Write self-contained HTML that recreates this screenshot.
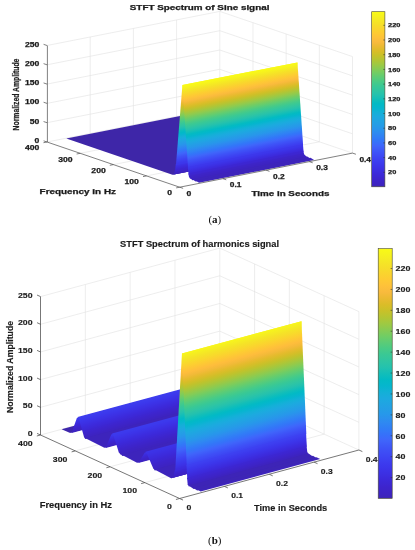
<!DOCTYPE html>
<html lang="en">
<head>
<meta charset="utf-8">
<title>STFT Spectrum figure</title>
<style>html,body{margin:0;padding:0;background:#fff}svg{display:block}</style>
</head>
<body>
<svg width="415" height="550" viewBox="0 0 415 550" font-family="&quot;Liberation Sans&quot;, Arial, sans-serif">
<defs>
<linearGradient id="a1" gradientUnits="userSpaceOnUse" x1="172.47" y1="174.66" x2="172.33" y2="173.93"><stop offset="0" stop-color="#3e26a8"/><stop offset="0.1316" stop-color="#3e26a8"/><stop offset="0.2632" stop-color="#3e26aa"/><stop offset="0.3947" stop-color="#3e25b0"/><stop offset="0.5" stop-color="#3d25b5"/><stop offset="0.5263" stop-color="#3d24b6"/><stop offset="0.6579" stop-color="#3d24bb"/><stop offset="0.7895" stop-color="#3d24bc"/><stop offset="0.9211" stop-color="#3d24be"/><stop offset="1" stop-color="#3d23bf"/></linearGradient>
<linearGradient id="a2" gradientUnits="userSpaceOnUse" x1="173.8" y1="173.64" x2="173.24" y2="170.81"><stop offset="0" stop-color="#3d23bf"/><stop offset="0.0556" stop-color="#3d23c0"/><stop offset="0.1111" stop-color="#3d23c2"/><stop offset="0.3333" stop-color="#3d23c5"/><stop offset="0.5" stop-color="#3d24c7"/><stop offset="0.5556" stop-color="#3d24c8"/><stop offset="0.7778" stop-color="#3d24cb"/><stop offset="1" stop-color="#3d25cf"/></linearGradient>
<linearGradient id="a3" gradientUnits="userSpaceOnUse" x1="174.79" y1="170.51" x2="173.57" y2="164.34"><stop offset="0" stop-color="#3d25cf"/><stop offset="0.1111" stop-color="#3c26d2"/><stop offset="0.2222" stop-color="#3c28d6"/><stop offset="0.25" stop-color="#3c28d7"/><stop offset="0.3333" stop-color="#3c29da"/><stop offset="0.4444" stop-color="#3c2bdd"/><stop offset="0.5" stop-color="#3c2cde"/><stop offset="0.5556" stop-color="#3c2de0"/><stop offset="0.6667" stop-color="#3c30e3"/><stop offset="0.75" stop-color="#3c31e5"/><stop offset="0.7778" stop-color="#3c32e6"/><stop offset="0.8889" stop-color="#3c34e9"/><stop offset="1" stop-color="#3c37eb"/></linearGradient>
<linearGradient id="a4" gradientUnits="userSpaceOnUse" x1="175.79" y1="163.9" x2="161.07" y2="89.31"><stop offset="0" stop-color="#3c37eb"/><stop offset="0.0095" stop-color="#3c39ed"/><stop offset="0.019" stop-color="#3d3cee"/><stop offset="0.0278" stop-color="#3d3ef0"/><stop offset="0.0286" stop-color="#3d3ff0"/><stop offset="0.0381" stop-color="#3d42f2"/><stop offset="0.0476" stop-color="#3d45f3"/><stop offset="0.0556" stop-color="#3d48f4"/><stop offset="0.0571" stop-color="#3e49f4"/><stop offset="0.0667" stop-color="#3e4df5"/><stop offset="0.0762" stop-color="#3e50f6"/><stop offset="0.0833" stop-color="#3e53f7"/><stop offset="0.0857" stop-color="#3e54f7"/><stop offset="0.0952" stop-color="#3e59f8"/><stop offset="0.1048" stop-color="#3f5df9"/><stop offset="0.1111" stop-color="#3f60fa"/><stop offset="0.1143" stop-color="#3f62fa"/><stop offset="0.1238" stop-color="#3f66fb"/><stop offset="0.1333" stop-color="#3b6afb"/><stop offset="0.1389" stop-color="#396dfa"/><stop offset="0.1429" stop-color="#386ffa"/><stop offset="0.1524" stop-color="#3573f9"/><stop offset="0.1619" stop-color="#3377f8"/><stop offset="0.1667" stop-color="#3279f7"/><stop offset="0.1714" stop-color="#317bf7"/><stop offset="0.181" stop-color="#3080f5"/><stop offset="0.1905" stop-color="#2f83f4"/><stop offset="0.1944" stop-color="#2f85f3"/><stop offset="0.2" stop-color="#2f87f2"/><stop offset="0.2095" stop-color="#2d8bf0"/><stop offset="0.219" stop-color="#2c8fee"/><stop offset="0.2222" stop-color="#2b91ed"/><stop offset="0.2286" stop-color="#2993ec"/><stop offset="0.2381" stop-color="#2797eb"/><stop offset="0.25" stop-color="#269ae8"/><stop offset="0.2778" stop-color="#22a1e4"/><stop offset="0.3056" stop-color="#1da8e0"/><stop offset="0.3333" stop-color="#16afd9"/><stop offset="0.3611" stop-color="#08b4d1"/><stop offset="0.3889" stop-color="#01b9c7"/><stop offset="0.4167" stop-color="#0bbdbd"/><stop offset="0.4444" stop-color="#1fc0b2"/><stop offset="0.4722" stop-color="#2cc4a6"/><stop offset="0.5" stop-color="#35c79a"/><stop offset="0.5278" stop-color="#41ca8c"/><stop offset="0.5556" stop-color="#53cc7d"/><stop offset="0.5833" stop-color="#67cd6c"/><stop offset="0.6111" stop-color="#7ecc5b"/><stop offset="0.6389" stop-color="#94ca4a"/><stop offset="0.6667" stop-color="#aac73a"/><stop offset="0.6944" stop-color="#bec32e"/><stop offset="0.7222" stop-color="#d1bf27"/><stop offset="0.75" stop-color="#e1bc2b"/><stop offset="0.7778" stop-color="#f0ba36"/><stop offset="0.8056" stop-color="#fcbc3d"/><stop offset="0.8333" stop-color="#fec437"/><stop offset="0.8611" stop-color="#fdce31"/><stop offset="0.8889" stop-color="#f9d72c"/><stop offset="0.9167" stop-color="#f5e128"/><stop offset="0.9444" stop-color="#f5eb23"/><stop offset="0.9722" stop-color="#f7f41c"/><stop offset="1" stop-color="#f9fb15"/></linearGradient>
<linearGradient id="a5" gradientUnits="userSpaceOnUse" x1="182.42" y1="85.1" x2="198.36" y2="165.86"><stop offset="-0" stop-color="#f9fb15"/><stop offset="0.0286" stop-color="#f7f41c"/><stop offset="0.0571" stop-color="#f5ea23"/><stop offset="0.0857" stop-color="#f6e028"/><stop offset="0.1143" stop-color="#f9d62d"/><stop offset="0.1429" stop-color="#fdcc32"/><stop offset="0.1714" stop-color="#fec339"/><stop offset="0.2" stop-color="#fabb3d"/><stop offset="0.2286" stop-color="#edba33"/><stop offset="0.2571" stop-color="#debd29"/><stop offset="0.2857" stop-color="#ccc028"/><stop offset="0.3143" stop-color="#b8c431"/><stop offset="0.3429" stop-color="#a3c83f"/><stop offset="0.3714" stop-color="#8dcb50"/><stop offset="0.4" stop-color="#75cc61"/><stop offset="0.4286" stop-color="#5fcd73"/><stop offset="0.4571" stop-color="#4bcb84"/><stop offset="0.4857" stop-color="#3bc993"/><stop offset="0.5143" stop-color="#31c6a0"/><stop offset="0.5429" stop-color="#26c2ac"/><stop offset="0.5714" stop-color="#15bfb7"/><stop offset="0.6" stop-color="#03bbc2"/><stop offset="0.6286" stop-color="#04b6cd"/><stop offset="0.6571" stop-color="#12b1d6"/><stop offset="0.6857" stop-color="#1babde"/><stop offset="0.7143" stop-color="#20a4e3"/><stop offset="0.7429" stop-color="#259ce7"/><stop offset="0.7613" stop-color="#2798ea"/><stop offset="0.7709" stop-color="#2994ec"/><stop offset="0.7714" stop-color="#2994ec"/><stop offset="0.7804" stop-color="#2b90ee"/><stop offset="0.79" stop-color="#2d8cef"/><stop offset="0.7995" stop-color="#2e88f1"/><stop offset="0.8" stop-color="#2e88f1"/><stop offset="0.8091" stop-color="#2f84f3"/><stop offset="0.8186" stop-color="#3081f5"/><stop offset="0.8282" stop-color="#317cf6"/><stop offset="0.8286" stop-color="#317cf6"/><stop offset="0.8377" stop-color="#3278f8"/><stop offset="0.8473" stop-color="#3474f9"/><stop offset="0.8568" stop-color="#3770fa"/><stop offset="0.8571" stop-color="#3770fa"/><stop offset="0.8663" stop-color="#3a6cfa"/><stop offset="0.8759" stop-color="#3e67fb"/><stop offset="0.8854" stop-color="#3f63fa"/><stop offset="0.8857" stop-color="#3f63fa"/><stop offset="0.895" stop-color="#3f5ef9"/><stop offset="0.9045" stop-color="#3e5af9"/><stop offset="0.9141" stop-color="#3e55f8"/><stop offset="0.9143" stop-color="#3e55f8"/><stop offset="0.9236" stop-color="#3e51f7"/><stop offset="0.9332" stop-color="#3e4ef6"/><stop offset="0.9427" stop-color="#3e4af4"/><stop offset="0.9429" stop-color="#3e4af4"/><stop offset="0.9523" stop-color="#3d46f3"/><stop offset="0.9618" stop-color="#3d43f2"/><stop offset="0.9714" stop-color="#3d3ff1"/><stop offset="0.9714" stop-color="#3d3ff1"/><stop offset="0.9809" stop-color="#3d3def"/><stop offset="0.9905" stop-color="#3c3aed"/><stop offset="1" stop-color="#3c37eb"/></linearGradient>
<linearGradient id="a6" gradientUnits="userSpaceOnUse" x1="188.06" y1="167.89" x2="189.32" y2="174.28"><stop offset="-0" stop-color="#3c37eb"/><stop offset="0.0303" stop-color="#3c37eb"/><stop offset="0.1515" stop-color="#3c34e9"/><stop offset="0.2727" stop-color="#3c32e6"/><stop offset="0.3333" stop-color="#3c31e4"/><stop offset="0.3939" stop-color="#3c30e3"/><stop offset="0.5152" stop-color="#3c2de0"/><stop offset="0.6364" stop-color="#3c2bdd"/><stop offset="0.6667" stop-color="#3c2bdc"/><stop offset="0.7576" stop-color="#3c29da"/><stop offset="0.8788" stop-color="#3c28d6"/><stop offset="1" stop-color="#3c26d2"/></linearGradient>
<linearGradient id="a7" gradientUnits="userSpaceOnUse" x1="188.56" y1="174.43" x2="189.12" y2="177.28"><stop offset="-0" stop-color="#3c26d2"/><stop offset="0.1429" stop-color="#3d26d1"/><stop offset="0.4286" stop-color="#3d25cd"/><stop offset="0.5" stop-color="#3d24cc"/><stop offset="0.7143" stop-color="#3d24ca"/><stop offset="1" stop-color="#3d24c6"/></linearGradient>
<linearGradient id="a8" gradientUnits="userSpaceOnUse" x1="189.06" y1="177.3" x2="189.38" y2="178.93"><stop offset="-0" stop-color="#3d24c6"/><stop offset="0.3333" stop-color="#3d23c5"/><stop offset="0.5" stop-color="#3d23c4"/><stop offset="1" stop-color="#3d23c2"/></linearGradient>
<linearGradient id="a9" gradientUnits="userSpaceOnUse" x1="190.05" y1="178.79" x2="190.4" y2="180.55"><stop offset="-0" stop-color="#3d23c2"/><stop offset="0.3333" stop-color="#3d23c0"/><stop offset="0.5" stop-color="#3d23c0"/><stop offset="0.6667" stop-color="#3d23bf"/><stop offset="1" stop-color="#3d24bd"/></linearGradient>
<linearGradient id="cba" x1="0" y1="0" x2="0" y2="1"><stop offset="-0" stop-color="#f9fb15"/><stop offset="0.025" stop-color="#f6f21e"/><stop offset="0.05" stop-color="#f5e825"/><stop offset="0.075" stop-color="#f6de29"/><stop offset="0.1" stop-color="#fad42e"/><stop offset="0.125" stop-color="#feca33"/><stop offset="0.15" stop-color="#fec13a"/><stop offset="0.175" stop-color="#f8ba3d"/><stop offset="0.2" stop-color="#eaba31"/><stop offset="0.225" stop-color="#dabd28"/><stop offset="0.25" stop-color="#c8c129"/><stop offset="0.275" stop-color="#b4c533"/><stop offset="0.3" stop-color="#9fc942"/><stop offset="0.325" stop-color="#88cb53"/><stop offset="0.35" stop-color="#71cd64"/><stop offset="0.375" stop-color="#5ccc76"/><stop offset="0.4" stop-color="#48cb86"/><stop offset="0.425" stop-color="#39c895"/><stop offset="0.45" stop-color="#2fc5a2"/><stop offset="0.475" stop-color="#24c2ae"/><stop offset="0.5" stop-color="#12beb9"/><stop offset="0.525" stop-color="#02bac4"/><stop offset="0.55" stop-color="#05b6ce"/><stop offset="0.575" stop-color="#13b0d7"/><stop offset="0.6" stop-color="#1caadf"/><stop offset="0.625" stop-color="#21a3e3"/><stop offset="0.65" stop-color="#259ce7"/><stop offset="0.6641" stop-color="#2797ea"/><stop offset="0.6725" stop-color="#2994ec"/><stop offset="0.675" stop-color="#2a93ed"/><stop offset="0.6809" stop-color="#2b90ee"/><stop offset="0.6893" stop-color="#2d8cf0"/><stop offset="0.6977" stop-color="#2f88f1"/><stop offset="0.7" stop-color="#2f87f2"/><stop offset="0.7061" stop-color="#2f84f3"/><stop offset="0.7145" stop-color="#3080f5"/><stop offset="0.7229" stop-color="#317cf7"/><stop offset="0.725" stop-color="#317bf7"/><stop offset="0.7313" stop-color="#3278f8"/><stop offset="0.7397" stop-color="#3574f9"/><stop offset="0.7481" stop-color="#3770fa"/><stop offset="0.75" stop-color="#386ffa"/><stop offset="0.7565" stop-color="#3b6bfb"/><stop offset="0.7649" stop-color="#3e67fb"/><stop offset="0.7733" stop-color="#3f62fa"/><stop offset="0.775" stop-color="#3f61fa"/><stop offset="0.7817" stop-color="#3f5ef9"/><stop offset="0.7901" stop-color="#3e59f8"/><stop offset="0.7985" stop-color="#3e55f8"/><stop offset="0.8" stop-color="#3e54f7"/><stop offset="0.8069" stop-color="#3e51f7"/><stop offset="0.8153" stop-color="#3e4df5"/><stop offset="0.8237" stop-color="#3e4af4"/><stop offset="0.825" stop-color="#3d49f4"/><stop offset="0.8321" stop-color="#3d46f3"/><stop offset="0.8405" stop-color="#3d42f2"/><stop offset="0.8489" stop-color="#3d3ff0"/><stop offset="0.85" stop-color="#3d3ff0"/><stop offset="0.8573" stop-color="#3d3cef"/><stop offset="0.8657" stop-color="#3c3aed"/><stop offset="0.8741" stop-color="#3c37eb"/><stop offset="0.875" stop-color="#3c37eb"/><stop offset="0.8825" stop-color="#3c34e9"/><stop offset="0.8908" stop-color="#3c32e6"/><stop offset="0.8992" stop-color="#3c30e3"/><stop offset="0.9" stop-color="#3c30e3"/><stop offset="0.9076" stop-color="#3c2ee0"/><stop offset="0.916" stop-color="#3c2cdd"/><stop offset="0.9244" stop-color="#3c29da"/><stop offset="0.925" stop-color="#3c29da"/><stop offset="0.9328" stop-color="#3c28d7"/><stop offset="0.9412" stop-color="#3c27d3"/><stop offset="0.9496" stop-color="#3d25cf"/><stop offset="0.95" stop-color="#3d25cf"/><stop offset="0.958" stop-color="#3d24cc"/><stop offset="0.9664" stop-color="#3d24c8"/><stop offset="0.9748" stop-color="#3d23c5"/><stop offset="0.975" stop-color="#3d23c5"/><stop offset="0.9832" stop-color="#3d23c2"/><stop offset="0.9853" stop-color="#3d23c1"/><stop offset="0.9874" stop-color="#3d23c0"/><stop offset="0.9895" stop-color="#3d23be"/><stop offset="0.9916" stop-color="#3d24bd"/><stop offset="0.9937" stop-color="#3d24bb"/><stop offset="0.9958" stop-color="#3d24b8"/><stop offset="0.9979" stop-color="#3d25b2"/><stop offset="1" stop-color="#3e26ac"/><stop offset="1" stop-color="#3e26ac"/></linearGradient>
<linearGradient id="b2" gradientUnits="userSpaceOnUse" x1="70.26" y1="432.83" x2="70.15" y2="432.4"><stop offset="0" stop-color="#3d25b2"/><stop offset="0.2273" stop-color="#3d24b8"/><stop offset="0.4545" stop-color="#3d24bb"/><stop offset="0.5" stop-color="#3d24bb"/><stop offset="0.6818" stop-color="#3d24bd"/><stop offset="0.9091" stop-color="#3d23be"/><stop offset="1" stop-color="#3d23bf"/></linearGradient>
<linearGradient id="b3" gradientUnits="userSpaceOnUse" x1="71.3" y1="432.09" x2="68.14" y2="420.38"><stop offset="0" stop-color="#3d23bf"/><stop offset="0.0167" stop-color="#3d23c0"/><stop offset="0.0333" stop-color="#3d23c2"/><stop offset="0.1" stop-color="#3d23c5"/><stop offset="0.1667" stop-color="#3d24c8"/><stop offset="0.2333" stop-color="#3d24cb"/><stop offset="0.3" stop-color="#3d25cf"/><stop offset="0.3333" stop-color="#3d26d1"/><stop offset="0.3667" stop-color="#3c26d2"/><stop offset="0.4333" stop-color="#3c28d6"/><stop offset="0.5" stop-color="#3c29da"/><stop offset="0.5667" stop-color="#3c2bdd"/><stop offset="0.6333" stop-color="#3c2de0"/><stop offset="0.6667" stop-color="#3c2ee2"/><stop offset="0.7" stop-color="#3c30e3"/><stop offset="0.7667" stop-color="#3c32e6"/><stop offset="0.8333" stop-color="#3c34e9"/><stop offset="0.9" stop-color="#3c37eb"/><stop offset="0.9667" stop-color="#3c39ed"/><stop offset="1" stop-color="#3d3bed"/></linearGradient>
<linearGradient id="b4" gradientUnits="userSpaceOnUse" x1="76.87" y1="418.02" x2="76.92" y2="418.21"><stop offset="0" stop-color="#3d3bed"/><stop offset="0.5" stop-color="#3d3bee"/><stop offset="1" stop-color="#3d3cee"/></linearGradient>
<linearGradient id="b5" gradientUnits="userSpaceOnUse" x1="77.91" y1="417.94" x2="78.24" y2="419.16"><stop offset="-0" stop-color="#3d3cee"/><stop offset="0.5" stop-color="#3d3bee"/><stop offset="1" stop-color="#3d3bed"/></linearGradient>
<linearGradient id="b6" gradientUnits="userSpaceOnUse" x1="78.96" y1="418.97" x2="83.96" y2="437.46"><stop offset="-0" stop-color="#3d3bed"/><stop offset="0.0345" stop-color="#3c39ed"/><stop offset="0.1034" stop-color="#3c37eb"/><stop offset="0.1724" stop-color="#3c34e9"/><stop offset="0.2" stop-color="#3c33e8"/><stop offset="0.2414" stop-color="#3c32e6"/><stop offset="0.3103" stop-color="#3c30e3"/><stop offset="0.3793" stop-color="#3c2de0"/><stop offset="0.4" stop-color="#3c2ddf"/><stop offset="0.4483" stop-color="#3c2bdd"/><stop offset="0.5172" stop-color="#3c29da"/><stop offset="0.5862" stop-color="#3c28d6"/><stop offset="0.6" stop-color="#3c28d6"/><stop offset="0.6552" stop-color="#3c26d2"/><stop offset="0.7241" stop-color="#3d25cf"/><stop offset="0.7931" stop-color="#3d24cb"/><stop offset="0.8" stop-color="#3d24cb"/><stop offset="0.8621" stop-color="#3d24c8"/><stop offset="0.931" stop-color="#3d23c5"/><stop offset="1" stop-color="#3d23c2"/></linearGradient>
<linearGradient id="b7" gradientUnits="userSpaceOnUse" x1="84.17" y1="437.41" x2="84.64" y2="439.14"><stop offset="-0" stop-color="#3d23c2"/><stop offset="0.25" stop-color="#3d23c0"/><stop offset="0.5" stop-color="#3d23bf"/><stop offset="0.75" stop-color="#3d24bd"/><stop offset="1" stop-color="#3d24bc"/></linearGradient>
<linearGradient id="b9" gradientUnits="userSpaceOnUse" x1="104.34" y1="447.72" x2="104.25" y2="447.4"><stop offset="0" stop-color="#3d24bc"/><stop offset="0.25" stop-color="#3d24bd"/><stop offset="0.5" stop-color="#3d23bf"/><stop offset="0.75" stop-color="#3d23c0"/><stop offset="1" stop-color="#3d23c2"/></linearGradient>
<linearGradient id="b10" gradientUnits="userSpaceOnUse" x1="105.38" y1="447.09" x2="102.63" y2="436.91"><stop offset="0" stop-color="#3d23c2"/><stop offset="0.0727" stop-color="#3d23c5"/><stop offset="0.1455" stop-color="#3d24c8"/><stop offset="0.2" stop-color="#3d24ca"/><stop offset="0.2182" stop-color="#3d24cb"/><stop offset="0.2909" stop-color="#3d25cf"/><stop offset="0.3636" stop-color="#3c26d2"/><stop offset="0.4" stop-color="#3c27d4"/><stop offset="0.4364" stop-color="#3c28d6"/><stop offset="0.5091" stop-color="#3c29da"/><stop offset="0.5818" stop-color="#3c2bdd"/><stop offset="0.6" stop-color="#3c2cde"/><stop offset="0.6545" stop-color="#3c2de0"/><stop offset="0.7273" stop-color="#3c30e3"/><stop offset="0.8" stop-color="#3c32e6"/><stop offset="0.8727" stop-color="#3c34e9"/><stop offset="0.9455" stop-color="#3c37eb"/><stop offset="1" stop-color="#3c39ec"/></linearGradient>
<linearGradient id="b11" gradientUnits="userSpaceOnUse" x1="111.3" y1="434.56" x2="111.36" y2="434.81"><stop offset="0" stop-color="#3c39ec"/><stop offset="0.5" stop-color="#3c39ed"/><stop offset="1" stop-color="#3c3aed"/></linearGradient>
<linearGradient id="b12" gradientUnits="userSpaceOnUse" x1="112.34" y1="434.54" x2="112.66" y2="435.71"><stop offset="-0" stop-color="#3c3aed"/><stop offset="0.5" stop-color="#3c39ed"/><stop offset="1" stop-color="#3c39ec"/></linearGradient>
<linearGradient id="b13" gradientUnits="userSpaceOnUse" x1="113.38" y1="435.52" x2="118.1" y2="452.96"><stop offset="-0" stop-color="#3c39ec"/><stop offset="0.0189" stop-color="#3c38ec"/><stop offset="0.0943" stop-color="#3c35ea"/><stop offset="0.1698" stop-color="#3c33e8"/><stop offset="0.2" stop-color="#3c32e6"/><stop offset="0.2453" stop-color="#3c31e4"/><stop offset="0.3208" stop-color="#3c2ee2"/><stop offset="0.3962" stop-color="#3c2cde"/><stop offset="0.4" stop-color="#3c2cde"/><stop offset="0.4717" stop-color="#3c2adc"/><stop offset="0.5472" stop-color="#3c28d8"/><stop offset="0.6" stop-color="#3c28d6"/><stop offset="0.6226" stop-color="#3c27d4"/><stop offset="0.6981" stop-color="#3d26d1"/><stop offset="0.7736" stop-color="#3d25cd"/><stop offset="0.8" stop-color="#3d24cc"/><stop offset="0.8491" stop-color="#3d24ca"/><stop offset="0.9245" stop-color="#3d24c6"/><stop offset="1" stop-color="#3d23c4"/></linearGradient>
<linearGradient id="b14" gradientUnits="userSpaceOnUse" x1="118.95" y1="452.73" x2="119.48" y2="454.7"><stop offset="-0" stop-color="#3d23c4"/><stop offset="0.5" stop-color="#3d23c2"/><stop offset="0.75" stop-color="#3d23c0"/><stop offset="1" stop-color="#3d23bf"/></linearGradient>
<linearGradient id="b15" gradientUnits="userSpaceOnUse" x1="120.34" y1="454.47" x2="120.86" y2="456.4"><stop offset="-0" stop-color="#3d23bf"/><stop offset="0.5" stop-color="#3d24bd"/><stop offset="1" stop-color="#3d24bc"/></linearGradient>
<linearGradient id="b17" gradientUnits="userSpaceOnUse" x1="137.03" y1="462.64" x2="136.94" y2="462.32"><stop offset="0" stop-color="#3d24bc"/><stop offset="0.25" stop-color="#3d24bd"/><stop offset="0.5" stop-color="#3d23bf"/><stop offset="0.75" stop-color="#3d23c0"/><stop offset="1" stop-color="#3d23c2"/></linearGradient>
<linearGradient id="b18" gradientUnits="userSpaceOnUse" x1="138.07" y1="462.01" x2="136.21" y2="455.14"><stop offset="0" stop-color="#3d23c2"/><stop offset="0.0909" stop-color="#3d23c5"/><stop offset="0.1818" stop-color="#3d24c8"/><stop offset="0.25" stop-color="#3d24ca"/><stop offset="0.2727" stop-color="#3d24cb"/><stop offset="0.3636" stop-color="#3d25cf"/><stop offset="0.4545" stop-color="#3c26d2"/><stop offset="0.5" stop-color="#3c27d4"/><stop offset="0.5455" stop-color="#3c28d6"/><stop offset="0.6364" stop-color="#3c29da"/><stop offset="0.7273" stop-color="#3c2bdd"/><stop offset="0.75" stop-color="#3c2cde"/><stop offset="0.8182" stop-color="#3c2de0"/><stop offset="0.9091" stop-color="#3c30e3"/><stop offset="1" stop-color="#3c32e6"/></linearGradient>
<linearGradient id="b19" gradientUnits="userSpaceOnUse" x1="144.68" y1="452.85" x2="144.73" y2="453.04"><stop offset="0" stop-color="#3c32e6"/><stop offset="0.5" stop-color="#3c32e7"/><stop offset="1" stop-color="#3c33e8"/></linearGradient>
<linearGradient id="b20" gradientUnits="userSpaceOnUse" x1="145.72" y1="452.77" x2="146.05" y2="453.99"><stop offset="-0" stop-color="#3c33e8"/><stop offset="0.5" stop-color="#3c32e7"/><stop offset="1" stop-color="#3c32e6"/></linearGradient>
<linearGradient id="b21" gradientUnits="userSpaceOnUse" x1="146.77" y1="453.8" x2="150.98" y2="469.37"><stop offset="-0" stop-color="#3c32e6"/><stop offset="0.0698" stop-color="#3c30e4"/><stop offset="0.1628" stop-color="#3c2ee1"/><stop offset="0.25" stop-color="#3c2cde"/><stop offset="0.2558" stop-color="#3c2cde"/><stop offset="0.3488" stop-color="#3c2adb"/><stop offset="0.4419" stop-color="#3c28d7"/><stop offset="0.5" stop-color="#3c27d5"/><stop offset="0.5349" stop-color="#3c27d3"/><stop offset="0.6279" stop-color="#3d26d0"/><stop offset="0.7209" stop-color="#3d24cc"/><stop offset="0.75" stop-color="#3d24cb"/><stop offset="0.814" stop-color="#3d24c9"/><stop offset="0.907" stop-color="#3d23c6"/><stop offset="1" stop-color="#3d23c3"/></linearGradient>
<linearGradient id="b22" gradientUnits="userSpaceOnUse" x1="153.37" y1="468.72" x2="153.91" y2="470.69"><stop offset="-0" stop-color="#3d23c3"/><stop offset="0.25" stop-color="#3d23c2"/><stop offset="0.5" stop-color="#3d23c0"/><stop offset="0.75" stop-color="#3d23bf"/><stop offset="1" stop-color="#3d24bd"/></linearGradient>
<linearGradient id="b24" gradientUnits="userSpaceOnUse" x1="171.11" y1="478.2" x2="170.87" y2="477.31"><stop offset="0" stop-color="#3d24bc"/><stop offset="0.125" stop-color="#3d24bd"/><stop offset="0.25" stop-color="#3d23bf"/><stop offset="0.375" stop-color="#3d23c0"/><stop offset="0.5" stop-color="#3d23c2"/><stop offset="1" stop-color="#3d23c5"/></linearGradient>
<linearGradient id="b25" gradientUnits="userSpaceOnUse" x1="172.85" y1="476.78" x2="171.28" y2="470.97"><stop offset="0" stop-color="#3d23c5"/><stop offset="0.1429" stop-color="#3d24c8"/><stop offset="0.2857" stop-color="#3d24cb"/><stop offset="0.3333" stop-color="#3d24cc"/><stop offset="0.4286" stop-color="#3d25cf"/><stop offset="0.5714" stop-color="#3c26d2"/><stop offset="0.6667" stop-color="#3c27d5"/><stop offset="0.7143" stop-color="#3c28d6"/><stop offset="0.8571" stop-color="#3c29da"/><stop offset="1" stop-color="#3c2bdd"/></linearGradient>
<linearGradient id="b26" gradientUnits="userSpaceOnUse" x1="174.93" y1="469.98" x2="146.08" y2="363.32"><stop offset="0" stop-color="#3c2bdd"/><stop offset="0.0093" stop-color="#3c2de0"/><stop offset="0.0185" stop-color="#3c30e3"/><stop offset="0.027" stop-color="#3c32e6"/><stop offset="0.0278" stop-color="#3c32e6"/><stop offset="0.037" stop-color="#3c34e9"/><stop offset="0.0463" stop-color="#3c37eb"/><stop offset="0.0541" stop-color="#3c39ec"/><stop offset="0.0556" stop-color="#3c39ed"/><stop offset="0.0648" stop-color="#3d3cee"/><stop offset="0.0741" stop-color="#3d3ff0"/><stop offset="0.0811" stop-color="#3d41f1"/><stop offset="0.0833" stop-color="#3d42f2"/><stop offset="0.0926" stop-color="#3d45f3"/><stop offset="0.1019" stop-color="#3e49f4"/><stop offset="0.1081" stop-color="#3e4bf5"/><stop offset="0.1111" stop-color="#3e4df5"/><stop offset="0.1204" stop-color="#3e50f6"/><stop offset="0.1296" stop-color="#3e54f7"/><stop offset="0.1351" stop-color="#3e57f8"/><stop offset="0.1389" stop-color="#3e59f8"/><stop offset="0.1481" stop-color="#3f5df9"/><stop offset="0.1574" stop-color="#3f62fa"/><stop offset="0.1622" stop-color="#3f64fb"/><stop offset="0.1667" stop-color="#3f66fb"/><stop offset="0.1759" stop-color="#3b6afb"/><stop offset="0.1852" stop-color="#386ffa"/><stop offset="0.1892" stop-color="#3671f9"/><stop offset="0.1944" stop-color="#3573f9"/><stop offset="0.2037" stop-color="#3377f8"/><stop offset="0.213" stop-color="#317bf7"/><stop offset="0.2162" stop-color="#317df6"/><stop offset="0.2222" stop-color="#307ff5"/><stop offset="0.2315" stop-color="#2f83f4"/><stop offset="0.2407" stop-color="#2f87f2"/><stop offset="0.2432" stop-color="#2e88f1"/><stop offset="0.25" stop-color="#2d8bf0"/><stop offset="0.2593" stop-color="#2c8fee"/><stop offset="0.2685" stop-color="#2993ec"/><stop offset="0.2703" stop-color="#2994ec"/><stop offset="0.2778" stop-color="#2797eb"/><stop offset="0.2973" stop-color="#259ce7"/><stop offset="0.3243" stop-color="#21a3e3"/><stop offset="0.3514" stop-color="#1baade"/><stop offset="0.3784" stop-color="#13b0d7"/><stop offset="0.4054" stop-color="#05b6ce"/><stop offset="0.4324" stop-color="#02bac4"/><stop offset="0.4595" stop-color="#11beba"/><stop offset="0.4865" stop-color="#23c1af"/><stop offset="0.5135" stop-color="#2fc5a3"/><stop offset="0.5405" stop-color="#37c897"/><stop offset="0.5676" stop-color="#45cb88"/><stop offset="0.5946" stop-color="#58cc79"/><stop offset="0.6216" stop-color="#6dcd68"/><stop offset="0.6486" stop-color="#83cc57"/><stop offset="0.6757" stop-color="#9ac946"/><stop offset="0.7027" stop-color="#afc637"/><stop offset="0.7297" stop-color="#c3c22b"/><stop offset="0.7568" stop-color="#d5be28"/><stop offset="0.7838" stop-color="#e5bb2d"/><stop offset="0.8108" stop-color="#f3ba39"/><stop offset="0.8378" stop-color="#febd3c"/><stop offset="0.8649" stop-color="#fec636"/><stop offset="0.8919" stop-color="#fcd030"/><stop offset="0.9189" stop-color="#f8da2b"/><stop offset="0.9459" stop-color="#f5e427"/><stop offset="0.973" stop-color="#f5ed22"/><stop offset="1" stop-color="#f8f61a"/></linearGradient>
<linearGradient id="b27" gradientUnits="userSpaceOnUse" x1="181.96" y1="353.61" x2="210.61" y2="459.52"><stop offset="-0" stop-color="#f8f61a"/><stop offset="0.0294" stop-color="#f5ed22"/><stop offset="0.0588" stop-color="#f5e327"/><stop offset="0.0882" stop-color="#f8da2b"/><stop offset="0.1176" stop-color="#fcd030"/><stop offset="0.1471" stop-color="#fec636"/><stop offset="0.1765" stop-color="#febd3c"/><stop offset="0.2059" stop-color="#f3ba39"/><stop offset="0.2353" stop-color="#e5bb2d"/><stop offset="0.2647" stop-color="#d5be28"/><stop offset="0.2941" stop-color="#c2c22b"/><stop offset="0.3235" stop-color="#aec637"/><stop offset="0.3529" stop-color="#99c946"/><stop offset="0.3824" stop-color="#83cc57"/><stop offset="0.4118" stop-color="#6ccd68"/><stop offset="0.4412" stop-color="#58cc79"/><stop offset="0.4706" stop-color="#45cb89"/><stop offset="0.5" stop-color="#37c897"/><stop offset="0.5294" stop-color="#2ec5a4"/><stop offset="0.5588" stop-color="#23c1af"/><stop offset="0.5882" stop-color="#10beba"/><stop offset="0.6176" stop-color="#02bac5"/><stop offset="0.6471" stop-color="#06b5cf"/><stop offset="0.6765" stop-color="#14b0d8"/><stop offset="0.7059" stop-color="#1caadf"/><stop offset="0.7353" stop-color="#21a3e3"/><stop offset="0.7647" stop-color="#259ce7"/><stop offset="0.7789" stop-color="#2798ea"/><stop offset="0.7889" stop-color="#2895ec"/><stop offset="0.7941" stop-color="#2993ec"/><stop offset="0.799" stop-color="#2b91ed"/><stop offset="0.809" stop-color="#2d8def"/><stop offset="0.8191" stop-color="#2e89f1"/><stop offset="0.8235" stop-color="#2f88f2"/><stop offset="0.8291" stop-color="#2f85f3"/><stop offset="0.8392" stop-color="#3081f5"/><stop offset="0.8492" stop-color="#317df6"/><stop offset="0.8529" stop-color="#317cf7"/><stop offset="0.8593" stop-color="#3279f7"/><stop offset="0.8693" stop-color="#3475f8"/><stop offset="0.8794" stop-color="#3671f9"/><stop offset="0.8824" stop-color="#3770fa"/><stop offset="0.8894" stop-color="#3a6dfa"/><stop offset="0.8995" stop-color="#3d68fb"/><stop offset="0.9095" stop-color="#3f64fb"/><stop offset="0.9118" stop-color="#3f63fa"/><stop offset="0.9196" stop-color="#3f5ffa"/><stop offset="0.9296" stop-color="#3e5bf9"/><stop offset="0.9397" stop-color="#3e56f8"/><stop offset="0.9412" stop-color="#3e56f8"/><stop offset="0.9497" stop-color="#3e52f7"/><stop offset="0.9598" stop-color="#3e4ef6"/><stop offset="0.9698" stop-color="#3e4bf5"/><stop offset="0.9706" stop-color="#3e4bf5"/><stop offset="0.9799" stop-color="#3d47f3"/><stop offset="0.9899" stop-color="#3d44f2"/><stop offset="1" stop-color="#3d40f1"/></linearGradient>
<linearGradient id="b28" gradientUnits="userSpaceOnUse" x1="186.76" y1="465.97" x2="190.06" y2="478.19"><stop offset="-0" stop-color="#3d40f1"/><stop offset="0.0435" stop-color="#3d3ff0"/><stop offset="0.1304" stop-color="#3d3cee"/><stop offset="0.2174" stop-color="#3c39ed"/><stop offset="0.25" stop-color="#3c38ec"/><stop offset="0.3043" stop-color="#3c37eb"/><stop offset="0.3913" stop-color="#3c34e9"/><stop offset="0.4783" stop-color="#3c32e6"/><stop offset="0.5" stop-color="#3c31e5"/><stop offset="0.5652" stop-color="#3c30e3"/><stop offset="0.6522" stop-color="#3c2de0"/><stop offset="0.7391" stop-color="#3c2bdd"/><stop offset="0.75" stop-color="#3c2bdd"/><stop offset="0.8261" stop-color="#3c29da"/><stop offset="0.913" stop-color="#3c28d6"/><stop offset="1" stop-color="#3c26d2"/></linearGradient>
<linearGradient id="b29" gradientUnits="userSpaceOnUse" x1="187.28" y1="478.94" x2="188.84" y2="484.71"><stop offset="-0" stop-color="#3c26d2"/><stop offset="0.1905" stop-color="#3d25cf"/><stop offset="0.381" stop-color="#3d24cb"/><stop offset="0.5" stop-color="#3d24c9"/><stop offset="0.5714" stop-color="#3d24c8"/><stop offset="0.7619" stop-color="#3d23c5"/><stop offset="0.9524" stop-color="#3d23c2"/><stop offset="1" stop-color="#3d23c0"/></linearGradient>
<linearGradient id="b30" gradientUnits="userSpaceOnUse" x1="187.8" y1="484.99" x2="188.27" y2="486.73"><stop offset="-0" stop-color="#3d23c0"/><stop offset="0.25" stop-color="#3d23bf"/><stop offset="0.5" stop-color="#3d24bd"/><stop offset="0.75" stop-color="#3d24bc"/><stop offset="1" stop-color="#3d24ba"/></linearGradient>
<linearGradient id="b33" gradientUnits="userSpaceOnUse" x1="197.19" y1="490.55" x2="197.65" y2="492.23"><stop offset="0" stop-color="#3d24b6"/><stop offset="0.3846" stop-color="#3d24bb"/><stop offset="0.5" stop-color="#3d24bb"/><stop offset="0.7692" stop-color="#3d24bc"/><stop offset="1" stop-color="#3d24bd"/></linearGradient>
<linearGradient id="cbb" x1="0" y1="0" x2="0" y2="1"><stop offset="-0" stop-color="#f9fb15"/><stop offset="0.025" stop-color="#f6f21e"/><stop offset="0.05" stop-color="#f5e825"/><stop offset="0.075" stop-color="#f6de29"/><stop offset="0.1" stop-color="#fad42e"/><stop offset="0.125" stop-color="#feca33"/><stop offset="0.15" stop-color="#fec13a"/><stop offset="0.175" stop-color="#f8ba3d"/><stop offset="0.2" stop-color="#eaba31"/><stop offset="0.225" stop-color="#dabd28"/><stop offset="0.25" stop-color="#c8c129"/><stop offset="0.275" stop-color="#b4c533"/><stop offset="0.3" stop-color="#9fc942"/><stop offset="0.325" stop-color="#88cb53"/><stop offset="0.35" stop-color="#71cd64"/><stop offset="0.375" stop-color="#5ccc76"/><stop offset="0.4" stop-color="#48cb86"/><stop offset="0.425" stop-color="#39c895"/><stop offset="0.45" stop-color="#2fc5a2"/><stop offset="0.475" stop-color="#24c2ae"/><stop offset="0.5" stop-color="#12beb9"/><stop offset="0.525" stop-color="#02bac4"/><stop offset="0.55" stop-color="#05b6ce"/><stop offset="0.575" stop-color="#13b0d7"/><stop offset="0.6" stop-color="#1caadf"/><stop offset="0.625" stop-color="#21a3e3"/><stop offset="0.65" stop-color="#259ce7"/><stop offset="0.6651" stop-color="#2797eb"/><stop offset="0.6735" stop-color="#2993ec"/><stop offset="0.675" stop-color="#2a93ed"/><stop offset="0.6819" stop-color="#2c8fee"/><stop offset="0.6902" stop-color="#2d8cf0"/><stop offset="0.6986" stop-color="#2f88f2"/><stop offset="0.7" stop-color="#2f87f2"/><stop offset="0.707" stop-color="#2f84f4"/><stop offset="0.7154" stop-color="#3080f5"/><stop offset="0.7237" stop-color="#317cf7"/><stop offset="0.725" stop-color="#317bf7"/><stop offset="0.7321" stop-color="#3378f8"/><stop offset="0.7405" stop-color="#3573f9"/><stop offset="0.7488" stop-color="#376ffa"/><stop offset="0.75" stop-color="#386efa"/><stop offset="0.7572" stop-color="#3b6bfb"/><stop offset="0.7656" stop-color="#3f66fb"/><stop offset="0.774" stop-color="#3f62fa"/><stop offset="0.775" stop-color="#3f61fa"/><stop offset="0.7823" stop-color="#3f5df9"/><stop offset="0.7907" stop-color="#3e59f8"/><stop offset="0.7991" stop-color="#3e54f7"/><stop offset="0.8" stop-color="#3e54f7"/><stop offset="0.8075" stop-color="#3e50f6"/><stop offset="0.8158" stop-color="#3e4df5"/><stop offset="0.8242" stop-color="#3e49f4"/><stop offset="0.825" stop-color="#3d49f4"/><stop offset="0.8326" stop-color="#3d46f3"/><stop offset="0.8409" stop-color="#3d42f2"/><stop offset="0.8493" stop-color="#3d3ff0"/><stop offset="0.85" stop-color="#3d3ff0"/><stop offset="0.8577" stop-color="#3d3cee"/><stop offset="0.8661" stop-color="#3c39ed"/><stop offset="0.8744" stop-color="#3c37eb"/><stop offset="0.875" stop-color="#3c37eb"/><stop offset="0.8828" stop-color="#3c34e9"/><stop offset="0.8912" stop-color="#3c32e6"/><stop offset="0.8995" stop-color="#3c30e3"/><stop offset="0.9" stop-color="#3c30e3"/><stop offset="0.9079" stop-color="#3c2ee0"/><stop offset="0.9163" stop-color="#3c2bdd"/><stop offset="0.9247" stop-color="#3c29da"/><stop offset="0.925" stop-color="#3c29da"/><stop offset="0.933" stop-color="#3c28d6"/><stop offset="0.9414" stop-color="#3c27d3"/><stop offset="0.9498" stop-color="#3d25cf"/><stop offset="0.95" stop-color="#3d25cf"/><stop offset="0.9581" stop-color="#3d24cb"/><stop offset="0.9665" stop-color="#3d24c8"/><stop offset="0.9749" stop-color="#3d23c5"/><stop offset="0.975" stop-color="#3d23c5"/><stop offset="0.9833" stop-color="#3d23c2"/><stop offset="0.9853" stop-color="#3d23c1"/><stop offset="0.9874" stop-color="#3d23bf"/><stop offset="0.9895" stop-color="#3d24be"/><stop offset="0.9916" stop-color="#3d24bc"/><stop offset="0.9937" stop-color="#3d24ba"/><stop offset="0.9958" stop-color="#3d25b5"/><stop offset="0.9979" stop-color="#3e25af"/><stop offset="1" stop-color="#3e26a9"/><stop offset="1" stop-color="#3e26a9"/></linearGradient>
</defs>
<rect width="415" height="550" fill="#ffffff"/>
<g filter="url(#soft)">
<g id="top-grid"><line x1="90.2" y1="133.47" x2="90.2" y2="36.97" stroke="#e0e0e0" stroke-width="0.6"/><line x1="133.4" y1="124.95" x2="133.4" y2="28.45" stroke="#e0e0e0" stroke-width="0.6"/><line x1="176.6" y1="116.43" x2="176.6" y2="19.93" stroke="#e0e0e0" stroke-width="0.6"/><line x1="219.8" y1="107.9" x2="219.8" y2="11.4" stroke="#e0e0e0" stroke-width="0.6"/><line x1="47" y1="142" x2="219.8" y2="107.9" stroke="#e0e0e0" stroke-width="0.6"/><line x1="219.8" y1="107.9" x2="352.5" y2="153.1" stroke="#e0e0e0" stroke-width="0.6"/><line x1="47" y1="122.7" x2="219.8" y2="88.6" stroke="#e0e0e0" stroke-width="0.6"/><line x1="219.8" y1="88.6" x2="352.5" y2="133.8" stroke="#e0e0e0" stroke-width="0.6"/><line x1="47" y1="103.4" x2="219.8" y2="69.3" stroke="#e0e0e0" stroke-width="0.6"/><line x1="219.8" y1="69.3" x2="352.5" y2="114.5" stroke="#e0e0e0" stroke-width="0.6"/><line x1="47" y1="84.1" x2="219.8" y2="50" stroke="#e0e0e0" stroke-width="0.6"/><line x1="219.8" y1="50" x2="352.5" y2="95.2" stroke="#e0e0e0" stroke-width="0.6"/><line x1="47" y1="64.8" x2="219.8" y2="30.7" stroke="#e0e0e0" stroke-width="0.6"/><line x1="219.8" y1="30.7" x2="352.5" y2="75.9" stroke="#e0e0e0" stroke-width="0.6"/><line x1="47" y1="45.5" x2="219.8" y2="11.4" stroke="#e0e0e0" stroke-width="0.6"/><line x1="219.8" y1="11.4" x2="352.5" y2="56.6" stroke="#e0e0e0" stroke-width="0.6"/><line x1="352.5" y1="153.1" x2="352.5" y2="56.6" stroke="#e0e0e0" stroke-width="0.6"/><line x1="319.32" y1="141.8" x2="319.32" y2="45.3" stroke="#e0e0e0" stroke-width="0.6"/><line x1="286.15" y1="130.5" x2="286.15" y2="34" stroke="#e0e0e0" stroke-width="0.6"/><line x1="252.98" y1="119.2" x2="252.98" y2="22.7" stroke="#e0e0e0" stroke-width="0.6"/><line x1="222.9" y1="178.67" x2="90.2" y2="133.47" stroke="#e0e0e0" stroke-width="0.6"/><line x1="266.1" y1="170.15" x2="133.4" y2="124.95" stroke="#e0e0e0" stroke-width="0.6"/><line x1="309.3" y1="161.62" x2="176.6" y2="116.43" stroke="#e0e0e0" stroke-width="0.6"/><line x1="146.52" y1="175.9" x2="319.32" y2="141.8" stroke="#e0e0e0" stroke-width="0.6"/><line x1="113.35" y1="164.6" x2="286.15" y2="130.5" stroke="#e0e0e0" stroke-width="0.6"/><line x1="80.17" y1="153.3" x2="252.98" y2="119.2" stroke="#e0e0e0" stroke-width="0.6"/></g>
<g id="top-surf"><polygon points="66.31,138.5 181.35,115.8 287.51,151.96 172.47,174.66" fill="#3e26a8"/><polygon points="172.47,174.66 287.51,151.96 288.84,150.94 173.8,173.64" fill="url(#a1)"/><polygon points="173.99,174.62 289.03,151.92 289.83,147.81 174.79,170.51" fill="url(#a2)"/><polygon points="174.99,171.49 290.03,148.79 290.83,141.2 175.79,163.9" fill="url(#a3)"/><polygon points="175.98,164.88 291.02,142.18 297.46,62.4 182.42,85.1" fill="url(#a4)"/><polygon points="182.42,85.1 297.46,62.4 303.1,145.19 188.06,167.89" fill="url(#a5)"/><polygon points="187.87,166.91 302.91,144.2 303.6,151.72 188.56,174.43" fill="url(#a6)"/><polygon points="188.37,173.44 303.41,150.74 304.1,154.6 189.06,177.3" fill="url(#a7)"/><polygon points="188.86,176.32 303.91,153.61 305.09,156.09 190.05,178.79" fill="url(#a8)"/><polygon points="189.86,177.81 304.9,155.11 307.42,157.46 192.38,180.16" fill="url(#a9)"/><polygon points="192.18,179.18 307.22,156.48 310.73,158.79 195.69,181.49" fill="#3d24bc"/><polygon points="195.5,180.51 310.54,157.8 314.05,160.11 199.01,182.81" fill="#3d24bb"/></g>
<g id="top-axes"><line x1="47.4" y1="142" x2="47.4" y2="45.5" stroke="#4a4a4a" stroke-width="0.7"/><line x1="47" y1="142" x2="179.7" y2="187.2" stroke="#4a4a4a" stroke-width="0.7"/><line x1="179.7" y1="187.2" x2="352.5" y2="153.1" stroke="#4a4a4a" stroke-width="0.7"/><line x1="47" y1="142" x2="43.59" y2="140.84" stroke="#4a4a4a" stroke-width="0.7"/><line x1="47" y1="122.7" x2="43.59" y2="121.54" stroke="#4a4a4a" stroke-width="0.7"/><line x1="47" y1="103.4" x2="43.59" y2="102.24" stroke="#4a4a4a" stroke-width="0.7"/><line x1="47" y1="84.1" x2="43.59" y2="82.94" stroke="#4a4a4a" stroke-width="0.7"/><line x1="47" y1="64.8" x2="43.59" y2="63.64" stroke="#4a4a4a" stroke-width="0.7"/><line x1="47" y1="45.5" x2="43.59" y2="44.34" stroke="#4a4a4a" stroke-width="0.7"/><line x1="179.7" y1="187.2" x2="176.17" y2="187.9" stroke="#4a4a4a" stroke-width="0.7"/><line x1="146.52" y1="175.9" x2="142.99" y2="176.6" stroke="#4a4a4a" stroke-width="0.7"/><line x1="113.35" y1="164.6" x2="109.82" y2="165.3" stroke="#4a4a4a" stroke-width="0.7"/><line x1="80.17" y1="153.3" x2="76.64" y2="154" stroke="#4a4a4a" stroke-width="0.7"/><line x1="47" y1="142" x2="43.47" y2="142.7" stroke="#4a4a4a" stroke-width="0.7"/><line x1="179.7" y1="187.2" x2="183.11" y2="188.36" stroke="#4a4a4a" stroke-width="0.7"/><line x1="222.9" y1="178.67" x2="226.31" y2="179.84" stroke="#4a4a4a" stroke-width="0.7"/><line x1="266.1" y1="170.15" x2="269.51" y2="171.31" stroke="#4a4a4a" stroke-width="0.7"/><line x1="309.3" y1="161.62" x2="312.71" y2="162.79" stroke="#4a4a4a" stroke-width="0.7"/><line x1="352.5" y1="153.1" x2="355.91" y2="154.26" stroke="#4a4a4a" stroke-width="0.7"/></g>
<g id="top-cb"><rect x="371.7" y="11.7" width="13.2" height="175.1" fill="url(#cba)" stroke="#4a4a30" stroke-width="0.6"/><line x1="383.3" y1="172.32" x2="384.9" y2="172.32" stroke="#333" stroke-width="0.6"/><line x1="383.3" y1="157.62" x2="384.9" y2="157.62" stroke="#333" stroke-width="0.6"/><line x1="383.3" y1="142.91" x2="384.9" y2="142.91" stroke="#333" stroke-width="0.6"/><line x1="383.3" y1="128.21" x2="384.9" y2="128.21" stroke="#333" stroke-width="0.6"/><line x1="383.3" y1="113.51" x2="384.9" y2="113.51" stroke="#333" stroke-width="0.6"/><line x1="383.3" y1="98.81" x2="384.9" y2="98.81" stroke="#333" stroke-width="0.6"/><line x1="383.3" y1="84.11" x2="384.9" y2="84.11" stroke="#333" stroke-width="0.6"/><line x1="383.3" y1="69.41" x2="384.9" y2="69.41" stroke="#333" stroke-width="0.6"/><line x1="383.3" y1="54.7" x2="384.9" y2="54.7" stroke="#333" stroke-width="0.6"/><line x1="383.3" y1="40" x2="384.9" y2="40" stroke="#333" stroke-width="0.6"/><line x1="383.3" y1="25.3" x2="384.9" y2="25.3" stroke="#333" stroke-width="0.6"/></g>
<g id="bot-grid"><line x1="85.32" y1="422.88" x2="85.32" y2="284.48" stroke="#e0e0e0" stroke-width="0.6"/><line x1="130.15" y1="410.75" x2="130.15" y2="272.35" stroke="#e0e0e0" stroke-width="0.6"/><line x1="174.97" y1="398.62" x2="174.97" y2="260.23" stroke="#e0e0e0" stroke-width="0.6"/><line x1="219.8" y1="386.5" x2="219.8" y2="248.1" stroke="#e0e0e0" stroke-width="0.6"/><line x1="40.5" y1="435" x2="219.8" y2="386.5" stroke="#e0e0e0" stroke-width="0.6"/><line x1="219.8" y1="386.5" x2="358.9" y2="450" stroke="#e0e0e0" stroke-width="0.6"/><line x1="40.5" y1="407.32" x2="219.8" y2="358.82" stroke="#e0e0e0" stroke-width="0.6"/><line x1="219.8" y1="358.82" x2="358.9" y2="422.32" stroke="#e0e0e0" stroke-width="0.6"/><line x1="40.5" y1="379.64" x2="219.8" y2="331.14" stroke="#e0e0e0" stroke-width="0.6"/><line x1="219.8" y1="331.14" x2="358.9" y2="394.64" stroke="#e0e0e0" stroke-width="0.6"/><line x1="40.5" y1="351.96" x2="219.8" y2="303.46" stroke="#e0e0e0" stroke-width="0.6"/><line x1="219.8" y1="303.46" x2="358.9" y2="366.96" stroke="#e0e0e0" stroke-width="0.6"/><line x1="40.5" y1="324.28" x2="219.8" y2="275.78" stroke="#e0e0e0" stroke-width="0.6"/><line x1="219.8" y1="275.78" x2="358.9" y2="339.28" stroke="#e0e0e0" stroke-width="0.6"/><line x1="40.5" y1="296.6" x2="219.8" y2="248.1" stroke="#e0e0e0" stroke-width="0.6"/><line x1="219.8" y1="248.1" x2="358.9" y2="311.6" stroke="#e0e0e0" stroke-width="0.6"/><line x1="358.9" y1="450" x2="358.9" y2="311.6" stroke="#e0e0e0" stroke-width="0.6"/><line x1="324.12" y1="434.12" x2="324.12" y2="295.73" stroke="#e0e0e0" stroke-width="0.6"/><line x1="289.35" y1="418.25" x2="289.35" y2="279.85" stroke="#e0e0e0" stroke-width="0.6"/><line x1="254.57" y1="402.38" x2="254.57" y2="263.98" stroke="#e0e0e0" stroke-width="0.6"/><line x1="224.42" y1="486.38" x2="85.32" y2="422.88" stroke="#e0e0e0" stroke-width="0.6"/><line x1="269.25" y1="474.25" x2="130.15" y2="410.75" stroke="#e0e0e0" stroke-width="0.6"/><line x1="314.07" y1="462.12" x2="174.97" y2="398.62" stroke="#e0e0e0" stroke-width="0.6"/><line x1="144.82" y1="482.62" x2="324.12" y2="434.12" stroke="#e0e0e0" stroke-width="0.6"/><line x1="110.05" y1="466.75" x2="289.35" y2="418.25" stroke="#e0e0e0" stroke-width="0.6"/><line x1="75.28" y1="450.88" x2="254.57" y2="402.38" stroke="#e0e0e0" stroke-width="0.6"/></g>
<g id="bot-surf"><polygon points="61.57,429.14 181.12,396.8 189.11,400.45 69.57,432.79" fill="#3e26ac"/><polygon points="69.3,431.82 188.85,399.48 189.81,400.49 70.26,432.83" fill="#3e25af"/><polygon points="70.26,432.83 189.81,400.49 190.85,399.75 71.3,432.09" fill="url(#b2)"/><polygon points="71.57,433.05 191.11,400.71 196.42,385.68 76.87,418.02" fill="url(#b3)"/><polygon points="76.87,418.02 196.42,385.68 197.46,385.6 77.91,417.94" fill="url(#b4)"/><polygon points="77.65,416.97 197.2,384.64 198.5,386.63 78.96,418.97" fill="url(#b5)"/><polygon points="78.69,418 198.24,385.67 203.72,405.07 84.17,437.41" fill="url(#b6)"/><polygon points="83.91,436.44 203.46,404.1 204.76,406.65 85.21,438.99" fill="url(#b7)"/><polygon points="84.95,438.02 204.5,405.69 223.89,415.38 104.34,447.72" fill="#3d24bc"/><polygon points="104.34,447.72 223.89,415.38 224.93,414.75 105.38,447.09" fill="url(#b9)"/><polygon points="105.65,448.05 225.19,415.72 230.84,402.23 111.3,434.56" fill="url(#b10)"/><polygon points="111.3,434.56 230.84,402.23 231.89,402.2 112.34,434.54" fill="url(#b11)"/><polygon points="112.08,433.58 231.63,401.24 232.93,403.18 113.38,435.52" fill="url(#b12)"/><polygon points="113.12,434.55 232.67,402.21 238.49,420.39 118.95,452.73" fill="url(#b13)"/><polygon points="118.69,451.76 238.23,419.42 239.89,422.13 120.34,454.47" fill="url(#b14)"/><polygon points="120.08,453.5 239.62,421.17 241.97,423.64 122.42,455.98" fill="url(#b15)"/><polygon points="122.16,455.01 241.71,422.67 256.58,430.31 137.03,462.64" fill="#3d24bc"/><polygon points="137.03,462.64 256.58,430.31 257.62,429.67 138.07,462.01" fill="url(#b17)"/><polygon points="138.33,462.98 257.88,430.64 264.23,420.51 144.68,452.85" fill="url(#b18)"/><polygon points="144.68,452.85 264.23,420.51 265.27,420.43 145.72,452.77" fill="url(#b19)"/><polygon points="145.46,451.81 265.01,419.47 266.31,421.46 146.77,453.8" fill="url(#b20)"/><polygon points="146.51,452.84 266.05,420.5 272.92,436.38 153.37,468.72" fill="url(#b21)"/><polygon points="153.11,467.75 272.66,435.42 274.31,438.12 154.76,470.46" fill="url(#b22)"/><polygon points="154.5,469.5 274.05,437.16 290.66,445.86 171.11,478.2" fill="#3d24bc"/><polygon points="171.11,478.2 290.66,445.86 292.4,444.44 172.85,476.78" fill="url(#b24)"/><polygon points="173.11,477.74 292.66,445.41 294.48,437.64 174.93,469.98" fill="url(#b25)"/><polygon points="175.2,470.95 294.74,438.61 301.51,321.27 181.96,353.61" fill="url(#b26)"/><polygon points="181.96,353.61 301.51,321.27 306.31,433.63 186.76,465.97" fill="url(#b27)"/><polygon points="186.5,465 306.04,432.67 306.83,446.6 187.28,478.94" fill="url(#b28)"/><polygon points="187.02,477.97 306.57,445.64 307.35,452.65 187.8,484.99" fill="url(#b29)"/><polygon points="187.54,484.02 307.09,451.69 308.39,454.24 188.84,486.57" fill="url(#b30)"/><polygon points="188.58,485.61 308.13,453.27 313.26,456.74 193.71,489.07" fill="#3d24b7"/><polygon points="193.45,488.11 313,455.77 316.74,458.21 197.19,490.55" fill="#3d25b5"/><polygon points="196.93,489.58 316.48,457.25 320.22,459.08 200.67,491.42" fill="url(#b33)"/></g>
<g id="bot-axes"><line x1="40.5" y1="435" x2="40.5" y2="296.6" stroke="#4a4a4a" stroke-width="0.75"/><line x1="40.5" y1="435" x2="179.6" y2="498.5" stroke="#4a4a4a" stroke-width="0.75"/><line x1="179.6" y1="498.5" x2="358.9" y2="450" stroke="#4a4a4a" stroke-width="0.75"/><line x1="40.5" y1="435" x2="37.04" y2="433.42" stroke="#4a4a4a" stroke-width="0.75"/><line x1="40.5" y1="407.32" x2="37.04" y2="405.74" stroke="#4a4a4a" stroke-width="0.75"/><line x1="40.5" y1="379.64" x2="37.04" y2="378.06" stroke="#4a4a4a" stroke-width="0.75"/><line x1="40.5" y1="351.96" x2="37.04" y2="350.38" stroke="#4a4a4a" stroke-width="0.75"/><line x1="40.5" y1="324.28" x2="37.04" y2="322.7" stroke="#4a4a4a" stroke-width="0.75"/><line x1="40.5" y1="296.6" x2="37.04" y2="295.02" stroke="#4a4a4a" stroke-width="0.75"/><line x1="179.6" y1="498.5" x2="175.93" y2="499.49" stroke="#4a4a4a" stroke-width="0.75"/><line x1="144.82" y1="482.62" x2="141.16" y2="483.62" stroke="#4a4a4a" stroke-width="0.75"/><line x1="110.05" y1="466.75" x2="106.38" y2="467.74" stroke="#4a4a4a" stroke-width="0.75"/><line x1="75.28" y1="450.88" x2="71.61" y2="451.87" stroke="#4a4a4a" stroke-width="0.75"/><line x1="40.5" y1="435" x2="36.83" y2="435.99" stroke="#4a4a4a" stroke-width="0.75"/><line x1="179.6" y1="498.5" x2="183.06" y2="500.08" stroke="#4a4a4a" stroke-width="0.75"/><line x1="224.42" y1="486.38" x2="227.88" y2="487.95" stroke="#4a4a4a" stroke-width="0.75"/><line x1="269.25" y1="474.25" x2="272.71" y2="475.83" stroke="#4a4a4a" stroke-width="0.75"/><line x1="314.07" y1="462.12" x2="317.53" y2="463.7" stroke="#4a4a4a" stroke-width="0.75"/><line x1="358.9" y1="450" x2="362.36" y2="451.58" stroke="#4a4a4a" stroke-width="0.75"/></g>
<g id="bot-cb"><rect x="378.2" y="248.65" width="14" height="249.75" fill="url(#cbb)" stroke="#4a4a30" stroke-width="0.6"/><line x1="390.6" y1="477.6" x2="392.2" y2="477.6" stroke="#333" stroke-width="0.6"/><line x1="390.6" y1="456.69" x2="392.2" y2="456.69" stroke="#333" stroke-width="0.6"/><line x1="390.6" y1="435.78" x2="392.2" y2="435.78" stroke="#333" stroke-width="0.6"/><line x1="390.6" y1="414.87" x2="392.2" y2="414.87" stroke="#333" stroke-width="0.6"/><line x1="390.6" y1="393.96" x2="392.2" y2="393.96" stroke="#333" stroke-width="0.6"/><line x1="390.6" y1="373.05" x2="392.2" y2="373.05" stroke="#333" stroke-width="0.6"/><line x1="390.6" y1="352.15" x2="392.2" y2="352.15" stroke="#333" stroke-width="0.6"/><line x1="390.6" y1="331.24" x2="392.2" y2="331.24" stroke="#333" stroke-width="0.6"/><line x1="390.6" y1="310.33" x2="392.2" y2="310.33" stroke="#333" stroke-width="0.6"/><line x1="390.6" y1="289.42" x2="392.2" y2="289.42" stroke="#333" stroke-width="0.6"/><line x1="390.6" y1="268.51" x2="392.2" y2="268.51" stroke="#333" stroke-width="0.6"/></g>
<g id="labels">
<text x="199.6" y="10" font-size="6.5" font-weight="bold" text-anchor="middle" fill="#1c1c1c" stroke="#1c1c1c" stroke-width="0.25" textLength="139.6" lengthAdjust="spacingAndGlyphs">STFT Spectrum of Sine signal</text>
<text x="39.4" y="143" font-size="6.5" font-weight="bold" text-anchor="end" fill="#1c1c1c" stroke="#1c1c1c" stroke-width="0.25" textLength="4.8" lengthAdjust="spacingAndGlyphs">0</text>
<text x="39.4" y="123.7" font-size="6.5" font-weight="bold" text-anchor="end" fill="#1c1c1c" stroke="#1c1c1c" stroke-width="0.25" textLength="9.6" lengthAdjust="spacingAndGlyphs">50</text>
<text x="39.4" y="104.4" font-size="6.5" font-weight="bold" text-anchor="end" fill="#1c1c1c" stroke="#1c1c1c" stroke-width="0.25" textLength="14.4" lengthAdjust="spacingAndGlyphs">100</text>
<text x="39.4" y="85.1" font-size="6.5" font-weight="bold" text-anchor="end" fill="#1c1c1c" stroke="#1c1c1c" stroke-width="0.25" textLength="14.4" lengthAdjust="spacingAndGlyphs">150</text>
<text x="39.4" y="65.8" font-size="6.5" font-weight="bold" text-anchor="end" fill="#1c1c1c" stroke="#1c1c1c" stroke-width="0.25" textLength="14.4" lengthAdjust="spacingAndGlyphs">200</text>
<text x="39.4" y="46.5" font-size="6.5" font-weight="bold" text-anchor="end" fill="#1c1c1c" stroke="#1c1c1c" stroke-width="0.25" textLength="14.4" lengthAdjust="spacingAndGlyphs">250</text>
<text x="172.1" y="195.4" font-size="6.5" font-weight="bold" text-anchor="end" fill="#1c1c1c" stroke="#1c1c1c" stroke-width="0.25" textLength="4.8" lengthAdjust="spacingAndGlyphs">0</text>
<text x="138.92" y="184.1" font-size="6.5" font-weight="bold" text-anchor="end" fill="#1c1c1c" stroke="#1c1c1c" stroke-width="0.25" textLength="14.4" lengthAdjust="spacingAndGlyphs">100</text>
<text x="105.75" y="172.8" font-size="6.5" font-weight="bold" text-anchor="end" fill="#1c1c1c" stroke="#1c1c1c" stroke-width="0.25" textLength="14.4" lengthAdjust="spacingAndGlyphs">200</text>
<text x="72.58" y="161.5" font-size="6.5" font-weight="bold" text-anchor="end" fill="#1c1c1c" stroke="#1c1c1c" stroke-width="0.25" textLength="14.4" lengthAdjust="spacingAndGlyphs">300</text>
<text x="39.4" y="150.2" font-size="6.5" font-weight="bold" text-anchor="end" fill="#1c1c1c" stroke="#1c1c1c" stroke-width="0.25" textLength="14.4" lengthAdjust="spacingAndGlyphs">400</text>
<text x="186.6" y="195.8" font-size="6.5" font-weight="bold" text-anchor="start" fill="#1c1c1c" stroke="#1c1c1c" stroke-width="0.25" textLength="4.8" lengthAdjust="spacingAndGlyphs">0</text>
<text x="229.8" y="187.27" font-size="6.5" font-weight="bold" text-anchor="start" fill="#1c1c1c" stroke="#1c1c1c" stroke-width="0.25" textLength="11.6" lengthAdjust="spacingAndGlyphs">0.1</text>
<text x="273" y="178.75" font-size="6.5" font-weight="bold" text-anchor="start" fill="#1c1c1c" stroke="#1c1c1c" stroke-width="0.25" textLength="11.6" lengthAdjust="spacingAndGlyphs">0.2</text>
<text x="316.2" y="170.22" font-size="6.5" font-weight="bold" text-anchor="start" fill="#1c1c1c" stroke="#1c1c1c" stroke-width="0.25" textLength="11.6" lengthAdjust="spacingAndGlyphs">0.3</text>
<text x="359.4" y="161.7" font-size="6.5" font-weight="bold" text-anchor="start" fill="#1c1c1c" stroke="#1c1c1c" stroke-width="0.25" textLength="11.6" lengthAdjust="spacingAndGlyphs">0.4</text>
<text x="39.6" y="193.5" font-size="6.5" font-weight="bold" text-anchor="start" fill="#1c1c1c" stroke="#1c1c1c" stroke-width="0.25" textLength="76.4" lengthAdjust="spacingAndGlyphs">Frequency in Hz</text>
<text x="251.4" y="196.1" font-size="6.5" font-weight="bold" text-anchor="start" fill="#1c1c1c" stroke="#1c1c1c" stroke-width="0.25" textLength="78" lengthAdjust="spacingAndGlyphs">Time in Seconds</text>
<text x="19.2" y="94.5" font-size="8.9" font-weight="bold" text-anchor="middle" fill="#1c1c1c" stroke="#1c1c1c" stroke-width="0.25" textLength="71.8" lengthAdjust="spacingAndGlyphs" transform="rotate(-90 19.2 94.5)">Normalized Amplitude</text>
<text x="388.1" y="174.42" font-size="5.9" font-weight="bold" text-anchor="start" fill="#1c1c1c" stroke="#1c1c1c" stroke-width="0.25" textLength="8.2" lengthAdjust="spacingAndGlyphs">20</text>
<text x="388.1" y="159.72" font-size="5.9" font-weight="bold" text-anchor="start" fill="#1c1c1c" stroke="#1c1c1c" stroke-width="0.25" textLength="8.2" lengthAdjust="spacingAndGlyphs">40</text>
<text x="388.1" y="145.01" font-size="5.9" font-weight="bold" text-anchor="start" fill="#1c1c1c" stroke="#1c1c1c" stroke-width="0.25" textLength="8.2" lengthAdjust="spacingAndGlyphs">60</text>
<text x="388.1" y="130.31" font-size="5.9" font-weight="bold" text-anchor="start" fill="#1c1c1c" stroke="#1c1c1c" stroke-width="0.25" textLength="8.2" lengthAdjust="spacingAndGlyphs">80</text>
<text x="388.1" y="115.61" font-size="5.9" font-weight="bold" text-anchor="start" fill="#1c1c1c" stroke="#1c1c1c" stroke-width="0.25" textLength="12.3" lengthAdjust="spacingAndGlyphs">100</text>
<text x="388.1" y="100.91" font-size="5.9" font-weight="bold" text-anchor="start" fill="#1c1c1c" stroke="#1c1c1c" stroke-width="0.25" textLength="12.3" lengthAdjust="spacingAndGlyphs">120</text>
<text x="388.1" y="86.21" font-size="5.9" font-weight="bold" text-anchor="start" fill="#1c1c1c" stroke="#1c1c1c" stroke-width="0.25" textLength="12.3" lengthAdjust="spacingAndGlyphs">140</text>
<text x="388.1" y="71.51" font-size="5.9" font-weight="bold" text-anchor="start" fill="#1c1c1c" stroke="#1c1c1c" stroke-width="0.25" textLength="12.3" lengthAdjust="spacingAndGlyphs">160</text>
<text x="388.1" y="56.8" font-size="5.9" font-weight="bold" text-anchor="start" fill="#1c1c1c" stroke="#1c1c1c" stroke-width="0.25" textLength="12.3" lengthAdjust="spacingAndGlyphs">180</text>
<text x="388.1" y="42.1" font-size="5.9" font-weight="bold" text-anchor="start" fill="#1c1c1c" stroke="#1c1c1c" stroke-width="0.25" textLength="12.3" lengthAdjust="spacingAndGlyphs">200</text>
<text x="388.1" y="27.4" font-size="5.9" font-weight="bold" text-anchor="start" fill="#1c1c1c" stroke="#1c1c1c" stroke-width="0.25" textLength="12.3" lengthAdjust="spacingAndGlyphs">220</text>
<text x="214.8" y="222.8" font-size="11" text-anchor="middle" fill="#111" font-family="&quot;Liberation Serif&quot;, serif">(<tspan font-weight="bold">a</tspan>)</text>
<text x="199.55" y="246.5" font-size="8.3" font-weight="bold" text-anchor="middle" fill="#1c1c1c" stroke="#1c1c1c" stroke-width="0.15" textLength="158.9" lengthAdjust="spacingAndGlyphs">STFT Spectrum of harmonics signal</text>
<text x="32.6" y="436" font-size="8.1" font-weight="bold" text-anchor="end" fill="#1c1c1c" stroke="#1c1c1c" stroke-width="0.15" textLength="4.87" lengthAdjust="spacingAndGlyphs">0</text>
<text x="32.6" y="408.32" font-size="8.1" font-weight="bold" text-anchor="end" fill="#1c1c1c" stroke="#1c1c1c" stroke-width="0.15" textLength="9.74" lengthAdjust="spacingAndGlyphs">50</text>
<text x="32.6" y="380.64" font-size="8.1" font-weight="bold" text-anchor="end" fill="#1c1c1c" stroke="#1c1c1c" stroke-width="0.15" textLength="14.61" lengthAdjust="spacingAndGlyphs">100</text>
<text x="32.6" y="352.96" font-size="8.1" font-weight="bold" text-anchor="end" fill="#1c1c1c" stroke="#1c1c1c" stroke-width="0.15" textLength="14.61" lengthAdjust="spacingAndGlyphs">150</text>
<text x="32.6" y="325.28" font-size="8.1" font-weight="bold" text-anchor="end" fill="#1c1c1c" stroke="#1c1c1c" stroke-width="0.15" textLength="14.61" lengthAdjust="spacingAndGlyphs">200</text>
<text x="32.6" y="297.6" font-size="8.1" font-weight="bold" text-anchor="end" fill="#1c1c1c" stroke="#1c1c1c" stroke-width="0.15" textLength="14.61" lengthAdjust="spacingAndGlyphs">250</text>
<text x="171.8" y="509.3" font-size="8.1" font-weight="bold" text-anchor="end" fill="#1c1c1c" stroke="#1c1c1c" stroke-width="0.15" textLength="4.87" lengthAdjust="spacingAndGlyphs">0</text>
<text x="137.02" y="493.43" font-size="8.1" font-weight="bold" text-anchor="end" fill="#1c1c1c" stroke="#1c1c1c" stroke-width="0.15" textLength="14.61" lengthAdjust="spacingAndGlyphs">100</text>
<text x="102.25" y="477.55" font-size="8.1" font-weight="bold" text-anchor="end" fill="#1c1c1c" stroke="#1c1c1c" stroke-width="0.15" textLength="14.61" lengthAdjust="spacingAndGlyphs">200</text>
<text x="67.48" y="461.68" font-size="8.1" font-weight="bold" text-anchor="end" fill="#1c1c1c" stroke="#1c1c1c" stroke-width="0.15" textLength="14.61" lengthAdjust="spacingAndGlyphs">300</text>
<text x="32.7" y="445.8" font-size="8.1" font-weight="bold" text-anchor="end" fill="#1c1c1c" stroke="#1c1c1c" stroke-width="0.15" textLength="14.61" lengthAdjust="spacingAndGlyphs">400</text>
<text x="186.4" y="510.4" font-size="8.1" font-weight="bold" text-anchor="start" fill="#1c1c1c" stroke="#1c1c1c" stroke-width="0.15" textLength="4.87" lengthAdjust="spacingAndGlyphs">0</text>
<text x="231.22" y="498.28" font-size="8.1" font-weight="bold" text-anchor="start" fill="#1c1c1c" stroke="#1c1c1c" stroke-width="0.15" textLength="11.9" lengthAdjust="spacingAndGlyphs">0.1</text>
<text x="276.05" y="486.15" font-size="8.1" font-weight="bold" text-anchor="start" fill="#1c1c1c" stroke="#1c1c1c" stroke-width="0.15" textLength="11.9" lengthAdjust="spacingAndGlyphs">0.2</text>
<text x="320.87" y="474.03" font-size="8.1" font-weight="bold" text-anchor="start" fill="#1c1c1c" stroke="#1c1c1c" stroke-width="0.15" textLength="11.9" lengthAdjust="spacingAndGlyphs">0.3</text>
<text x="365.7" y="461.9" font-size="8.1" font-weight="bold" text-anchor="start" fill="#1c1c1c" stroke="#1c1c1c" stroke-width="0.15" textLength="11.9" lengthAdjust="spacingAndGlyphs">0.4</text>
<text x="39.7" y="508.1" font-size="8.3" font-weight="bold" text-anchor="start" fill="#1c1c1c" stroke="#1c1c1c" stroke-width="0.15" textLength="72.3" lengthAdjust="spacingAndGlyphs">Frequency in Hz</text>
<text x="254" y="510.8" font-size="8.3" font-weight="bold" text-anchor="start" fill="#1c1c1c" stroke="#1c1c1c" stroke-width="0.15" textLength="73.2" lengthAdjust="spacingAndGlyphs">Time in Seconds</text>
<text x="12.9" y="366.9" font-size="8.2" font-weight="bold" text-anchor="middle" fill="#1c1c1c" stroke="#1c1c1c" stroke-width="0.15" textLength="92.2" lengthAdjust="spacingAndGlyphs" transform="rotate(-90 12.9 366.9)">Normalized Amplitude</text>
<text x="395.5" y="480.35" font-size="7.7" font-weight="bold" text-anchor="start" fill="#1c1c1c" stroke="#1c1c1c" stroke-width="0.15" textLength="9.9" lengthAdjust="spacingAndGlyphs">20</text>
<text x="395.5" y="459.44" font-size="7.7" font-weight="bold" text-anchor="start" fill="#1c1c1c" stroke="#1c1c1c" stroke-width="0.15" textLength="9.9" lengthAdjust="spacingAndGlyphs">40</text>
<text x="395.5" y="438.53" font-size="7.7" font-weight="bold" text-anchor="start" fill="#1c1c1c" stroke="#1c1c1c" stroke-width="0.15" textLength="9.9" lengthAdjust="spacingAndGlyphs">60</text>
<text x="395.5" y="417.62" font-size="7.7" font-weight="bold" text-anchor="start" fill="#1c1c1c" stroke="#1c1c1c" stroke-width="0.15" textLength="9.9" lengthAdjust="spacingAndGlyphs">80</text>
<text x="395.5" y="396.71" font-size="7.7" font-weight="bold" text-anchor="start" fill="#1c1c1c" stroke="#1c1c1c" stroke-width="0.15" textLength="14.85" lengthAdjust="spacingAndGlyphs">100</text>
<text x="395.5" y="375.8" font-size="7.7" font-weight="bold" text-anchor="start" fill="#1c1c1c" stroke="#1c1c1c" stroke-width="0.15" textLength="14.85" lengthAdjust="spacingAndGlyphs">120</text>
<text x="395.5" y="354.9" font-size="7.7" font-weight="bold" text-anchor="start" fill="#1c1c1c" stroke="#1c1c1c" stroke-width="0.15" textLength="14.85" lengthAdjust="spacingAndGlyphs">140</text>
<text x="395.5" y="333.99" font-size="7.7" font-weight="bold" text-anchor="start" fill="#1c1c1c" stroke="#1c1c1c" stroke-width="0.15" textLength="14.85" lengthAdjust="spacingAndGlyphs">160</text>
<text x="395.5" y="313.08" font-size="7.7" font-weight="bold" text-anchor="start" fill="#1c1c1c" stroke="#1c1c1c" stroke-width="0.15" textLength="14.85" lengthAdjust="spacingAndGlyphs">180</text>
<text x="395.5" y="292.17" font-size="7.7" font-weight="bold" text-anchor="start" fill="#1c1c1c" stroke="#1c1c1c" stroke-width="0.15" textLength="14.85" lengthAdjust="spacingAndGlyphs">200</text>
<text x="395.5" y="271.26" font-size="7.7" font-weight="bold" text-anchor="start" fill="#1c1c1c" stroke="#1c1c1c" stroke-width="0.15" textLength="14.85" lengthAdjust="spacingAndGlyphs">220</text>
<text x="214.7" y="543.5" font-size="11" text-anchor="middle" fill="#111" font-family="&quot;Liberation Serif&quot;, serif">(<tspan font-weight="bold">b</tspan>)</text>
</g>
</g>
</svg>
</body>
</html>
